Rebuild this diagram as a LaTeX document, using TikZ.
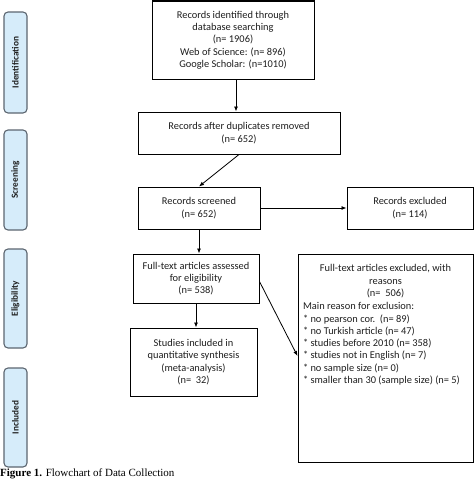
\documentclass[tikz,border=0pt]{standalone}
\usepackage{fontspec}
\setmainfont{Carlito}
\newfontfamily\capfont{Liberation Serif}
\usetikzlibrary{arrows.meta,calc}
\definecolor{stagefill}{HTML}{D6ECFA}
\definecolor{stagedraw}{HTML}{5C6670}
\definecolor{txt}{HTML}{1E1E1E}
\tikzset{
  box/.style={draw=black, line width=1pt, rectangle, inner sep=0pt, align=center,
    text=txt, font=\fontsize{10.4}{12.3}\selectfont},
  stage/.style={draw=stagedraw, fill=stagefill, line width=1.1pt, rounded corners=4pt,
    minimum width=23pt, inner sep=0pt, text=txt,
    font=\bfseries\fontsize{9.3}{11}\selectfont},
  arr/.style={-{Latex[length=5pt,width=4pt]}, line width=0.8pt, black},
}
\begin{document}
\begin{tikzpicture}[x=1pt,y=-1pt]
\useasboundingbox (0,0) rectangle (474,479);
% stage labels
\node[stage, minimum height=101pt] (s1) at (15.5,62.5) {\rotatebox{90}{Identification}};
\node[stage, minimum height=100pt] (s2) at (15.5,180) {\rotatebox{90}{Screening}};
\node[stage, minimum height=99pt] (s3) at (15.5,298.5) {\rotatebox{90}{Eligibility}};
\node[stage, minimum height=99pt] (s4) at (15.5,417.5) {\rotatebox{90}{Included}};
% boxes
\node[box, minimum width=162pt, minimum height=78pt] (b1) at (233,40)
  {Records identified through\\database searching\\(n= 1906)\\Web of Science: (n= 896)\\Google Scholar: (n=1010)};
\node[box, minimum width=202pt, minimum height=42pt] (b2) at (239,133)
  {Records after duplicates removed\\(n= 652)};
\node[box, minimum width=122pt, minimum height=42pt] (b3) at (199,208)
  {Records screened\\(n= 652)};
\node[box, minimum width=126pt, minimum height=42pt] (b4) at (410,208)
  {Records excluded\\(n= 114)};
\node[box, minimum width=126pt, minimum height=49pt] (b5) at (196,278.5)
  {Full-text articles assessed\\for eligibility\\(n= 538)};
\node[box, minimum width=127pt, minimum height=68pt] (b6) at (193.5,362)
  {Studies included in\\quantitative synthesis\\(meta-analysis)\\(n=\ \ 32)};
\node[box, minimum width=175pt, minimum height=208pt] (b7) at (385.5,358) {};
\node[box, draw=none, anchor=north] (b7h) at (385.5,264)
  {Full-text articles excluded, with\\reasons\\(n=\ \ 506)};
\node[box, draw=none, anchor=north west, align=left] (b7l) at (302.5,302)
  {Main reason for exclusion:\\
   * no pearson cor.\ \ (n= 89)\\
   * no Turkish article (n= 47)\\
   * studies before 2010 (n= 358)\\
   * studies not in English (n= 7)\\
   * no sample size (n= 0)\\
   * smaller than 30 (sample size) (n= 5)};
% arrows
\draw[arr] ([xshift=3pt]b1.south) -- ([xshift=3pt]b1.south |- b2.north);
\draw[arr] (b2.south) -- (b3.north);
\draw[arr] (b3.east) -- (b4.west);
\draw[arr] (b3.south) -- (b3.south |- b5.north);
\draw[arr] (b5.south) -- (b5.south |- b6.north);
\draw[arr] ([yshift=-3pt]b5.east) -- ([yshift=2pt]b7.west);
% caption
\node[anchor=base west, inner sep=0pt, text=black, font=\capfont\fontsize{11}{13}\selectfont] (cap) at (0,476)
  {\textbf{Figure 1.} Flowchart of Data Collection};
\end{tikzpicture}
\end{document}
